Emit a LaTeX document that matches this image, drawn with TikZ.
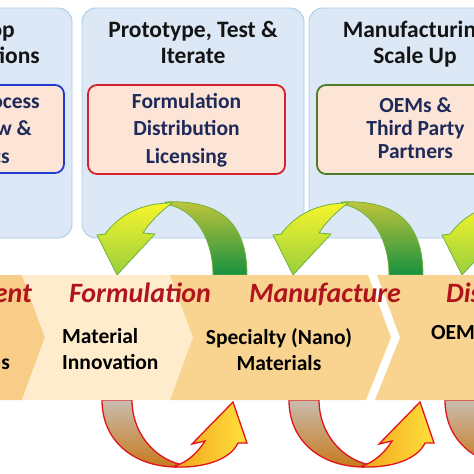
\documentclass[tikz,border=0pt]{standalone}
\usepackage{fontspec}
\setmainfont{Carlito}
\definecolor{panelfill}{HTML}{DCE8F5}
\definecolor{panelline}{HTML}{A8CCE8}
\definecolor{boxfill}{HTML}{FCE4D6}
\definecolor{boxblue}{HTML}{1F3BD0}
\definecolor{boxred}{HTML}{D8202A}
\definecolor{boxgreen}{HTML}{4F7A2A}
\definecolor{titletext}{HTML}{141414}
\definecolor{boxtext}{HTML}{1E2A5A}
\definecolor{stagered}{HTML}{B0141C}
\definecolor{chevdark}{HTML}{F8CD88}
\definecolor{chevlight}{HTML}{FEECCD}
\definecolor{chevmid}{HTML}{F9D491}
\definecolor{leafline}{HTML}{6CB33E}
\definecolor{leafolive}{HTML}{C5C63A}
\definecolor{leafdeep}{HTML}{16913F}
\definecolor{leafyellow}{HTML}{F7F52C}
\definecolor{leaflime}{HTML}{98CE3C}
\definecolor{swoopline}{HTML}{E0141C}
\definecolor{swooptop}{HTML}{C9BCB0}
\definecolor{swoopbrown}{HTML}{C77A1C}
\definecolor{swoopgold}{HTML}{F2A51E}
\definecolor{swoopsun}{HTML}{FFE03C}
\begin{document}
\begin{tikzpicture}[x=1pt,y=-1pt,
  panel/.style={draw=panelline, fill=panelfill, line width=0.9pt, rounded corners=14pt},
  infobox/.style={fill=boxfill, line width=1.8pt, rounded corners=9pt},
  ptitle/.style={font=\fontsize{23.5}{25.5}\selectfont\bfseries, text=titletext, align=center, inner sep=0pt, anchor=base},
  btext/.style={font=\fontsize{21.5}{27.5}\selectfont\bfseries, text=boxtext, align=center, inner sep=0pt, anchor=base},
  stage/.style={font=\fontsize{28}{32}\selectfont\bfseries\itshape, text=stagered, inner sep=0pt},
  ctext/.style={font=\fontsize{21.5}{26}\selectfont\bfseries, text=black, inner sep=0pt},
  leaf/.style={draw=leafline, line width=0.8pt},
  swoop/.style={draw=swoopline, line width=1.3pt}]
\useasboundingbox (0,0) rectangle (474,474);
\clip (0,0) rectangle (474,474);
\fill[white] (0,0) rectangle (474,474);
%
\draw[panel] (-150,8) rectangle (72,238);
\draw[panel] (82,8) rectangle (304,238);
\draw[panel] (309,8) rectangle (531,238);
\node[ptitle, anchor=base east] (dev1) at (15,37) {Develop};
\node[ptitle, anchor=base east] (dev2) at (40,63) {Applications};
\node[ptitle] (proto) at (193,63) {Prototype, Test \&\\Iterate};
\node[ptitle] (scale) at (415,63) {Manufacturing\\Scale Up};
%
\draw[infobox, draw=boxblue] (-133,85) rectangle (64,173);
\draw[infobox, draw=boxred] (88,85) rectangle (285,174);
\draw[infobox, draw=boxgreen] (317,85) rectangle (514,174);
\node[btext, anchor=base east] (proc1) at (40,108) {Process};
\node[btext, anchor=base east] (proc2) at (32,135) {Flow \&};
\node[btext, anchor=base east] (proc3) at (10,163) {Economics};
\node[btext] (lic) at (186.5,163) {Formulation\\Distribution\\Licensing};
\node[btext, font=\fontsize{21.5}{23}\selectfont\bfseries] (oems) at (415.5,158) {OEMs \&\\Third Party\\Partners};
%
\foreach \dx in {0,176,345}{
  \begin{scope}[xshift=\dx pt]
  \draw[leaf, top color=leafolive, bottom color=leafdeep]
    (165,202) .. controls (225,199) and (247,228) .. (247,275) -- (213,275)
    .. controls (213,242) and (198,212) .. (170,205) -- cycle;
  \draw[leaf, top color=leafyellow, bottom color=leaflime]
    (97,235) -- (105,234) .. controls (120,214) and (142,203) .. (172,203)
    .. controls (160,212) and (150,222) .. (143,233) -- (155,234) -- (117,275) -- cycle;
  \end{scope}
}
\foreach \dx in {-187,0,156}{
  \begin{scope}[xshift=\dx pt]
  \draw[swoop, top color=swooptop, bottom color=swoopbrown]
    (289,400) .. controls (289,442) and (322,467) .. (364,467) -- (366,464)
    .. controls (340,457) and (319,432) .. (319,400) -- cycle;
  \draw[swoop, left color=swoopgold, right color=swoopsun]
    (362,467) .. controls (395,468) and (418,458) .. (425,443) -- (434,443) -- (420,402)
    -- (379,444) -- (392,441) .. controls (385,452) and (375,462) .. (362,466) -- cycle;
  \end{scope}
}
%
\fill[chevdark] (-60,275) -- (22,275) -- (45,337.5) -- (22,400) -- (-60,400) -- cycle;
\fill[chevlight] (22,275) -- (170,275) -- (193,337.5) -- (170,400) -- (22,400) -- (45,337.5) -- cycle;
\fill[chevmid] (170,275) -- (368,275) -- (391,337.5) -- (366,400) -- (170,400) -- (193,337.5) -- cycle;
\fill[chevmid] (377,275) -- (540,275) -- (540,400) -- (375,400) -- (400,337.5) -- cycle;
\node[stage, anchor=base east] (develop) at (32,302) {Development};
\node[stage, anchor=base] (formul) at (140,302) {Formulation};
\node[stage, anchor=base] (manuf) at (325,302) {Manufacture};
\node[stage, anchor=base west] (distr) at (446,302) {Distribution};
\node[ctext, anchor=base east] (rawmat) at (10,369) {Materials};
\node[ctext, align=left, anchor=base west] (innov) at (62,369) {Material\\Innovation};
\node[ctext, align=center, anchor=base] (nano) at (279,370) {Specialty (Nano)\\Materials};
\node[ctext, anchor=base west] (oemb) at (431,339) {OEM};
\end{tikzpicture}
\end{document}
